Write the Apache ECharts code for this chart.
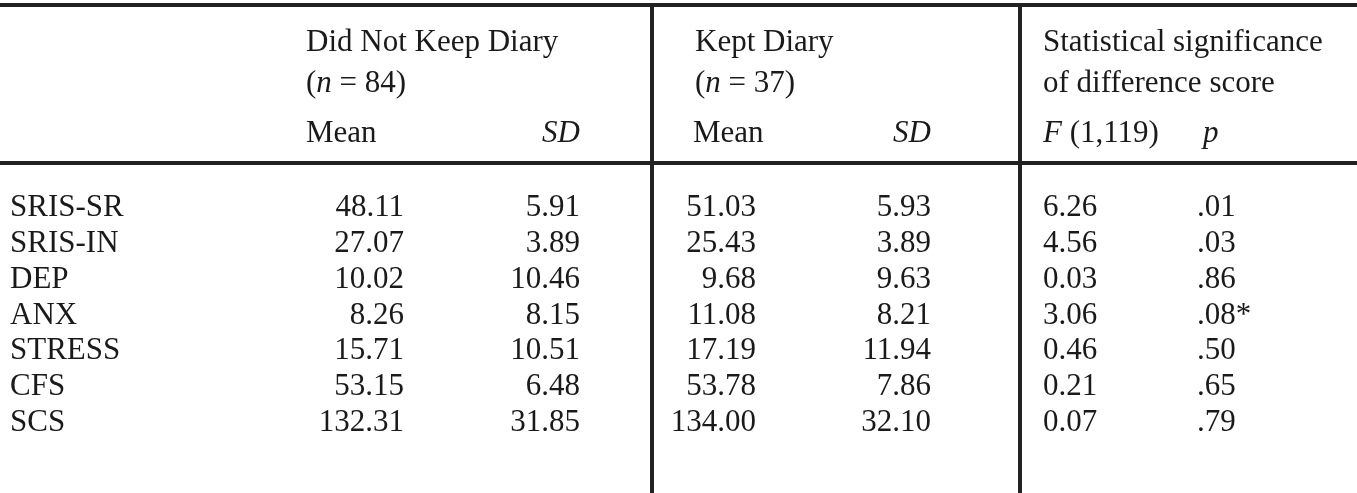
<!DOCTYPE html>
<html>
<head>
<meta charset="utf-8">
<script src="https://cdn.jsdelivr.net/npm/echarts@6/dist/echarts.min.js"></script>
<style>
html,body{margin:0;padding:0;background:#fff;}
#chart{width:1357px;height:493px;}
</style>
</head>
<body>
<div id="chart"></div>
<script>
// table data
var measures = ['SRIS-SR', 'SRIS-IN', 'DEP', 'ANX', 'STRESS', 'CFS', 'SCS'];
var noDiaryMean = ['48.11', '27.07', '10.02', '8.26', '15.71', '53.15', '132.31'];
var noDiarySD = ['5.91', '3.89', '10.46', '8.15', '10.51', '6.48', '31.85'];
var diaryMean = ['51.03', '25.43', '9.68', '11.08', '17.19', '53.78', '134.00'];
var diarySD = ['5.93', '3.89', '9.63', '8.21', '11.94', '7.86', '32.10'];
var fValues = ['6.26', '4.56', '0.03', '3.06', '0.46', '0.21', '0.07'];
var pValues = ['.01', '.03', '.86', '.08*', '.50', '.65', '.79'];

// layout: column anchors (px) and alignment
var cols = [
	{ x: 10, align: 'left' },
	{ x: 404, align: 'right' },
	{ x: 580, align: 'right' },
	{ x: 756, align: 'right' },
	{ x: 931, align: 'right' },
	{ x: 1043, align: 'left' },
	{ x: 1197, align: 'left' }
];
var rowTop = 208, rowStep = 35.8;
var FONT = '"Liberation Serif", "DejaVu Serif", serif';
var FS = 31;

var cells = [];
var columns = [measures, noDiaryMean, noDiarySD, diaryMean, diarySD, fValues, pValues];
columns.forEach(function(col, c) {
	col.forEach(function(v, r) {
		cells.push([cols[c].x, rowTop + r * rowStep, v, cols[c].align]);
	});
});

// header texts: [x, y, parts(text, italic), align]
var header = [
	[306, 43, [['Did Not Keep Diary', false]], 'left'],
	[306, 84, [['(', false], ['n', true], [' = 84)', false]], 'left'],
	[306, 134, [['Mean', false]], 'left'],
	[580, 134, [['SD', true]], 'right'],
	[695, 43, [['Kept Diary', false]], 'left'],
	[695, 84, [['(', false], ['n', true], [' = 37)', false]], 'left'],
	[693, 134, [['Mean', false]], 'left'],
	[931, 134, [['SD', true]], 'right'],
	[1043, 43, [['Statistical significance', false]], 'left'],
	[1043, 84, [['of difference score', false]], 'left'],
	[1043, 134, [['F', true], [' (1,119)', false]], 'left'],
	[1203, 134, [['p', true]], 'left']
];

function richText(parts) {
	return parts.map(function(p) { return '{' + (p[1] ? 'i' : 'n') + '|' + p[0] + '}'; }).join('');
}

var chart = echarts.init(document.getElementById('chart'));

chart.setOption({
	animation: false,
	grid: { left: 0, right: 0, top: 0, bottom: 0 },
	xAxis: { type: 'value', min: 0, max: 1357, show: false },
	yAxis: { type: 'value', min: 0, max: 493, inverse: true, show: false },
	series: [
		{
			type: 'custom',
			data: cells,
			renderItem: function(params, api) {
				var p = api.coord([api.value(0), api.value(1)]);
				return {
					type: 'text',
					x: p[0], y: p[1],
					style: {
						text: cells[params.dataIndex][2],
						textAlign: cells[params.dataIndex][3],
						textVerticalAlign: 'middle',
						fontFamily: FONT, fontSize: FS, fill: '#1a1a1a'
					}
				};
			}
		},
		{
			type: 'custom',
			data: header.map(function(h) { return [h[0], h[1]]; }),
			renderItem: function(params, api) {
				var h = header[params.dataIndex];
				var p = api.coord([api.value(0), api.value(1)]);
				return {
					type: 'text',
					x: p[0], y: p[1],
					style: {
						text: richText(h[2]),
						textAlign: h[3],
						textVerticalAlign: 'middle',
						fontFamily: FONT, fontSize: FS, fill: '#1a1a1a',
						rich: {
							n: { fontFamily: FONT, fontSize: FS, fill: '#1a1a1a' },
							i: { fontFamily: FONT, fontSize: FS, fontStyle: 'italic', fill: '#1a1a1a' }
						}
					}
				};
			}
		}
	],
	graphic: [
		{ type: 'rect', shape: { x: 0, y: 3, width: 1357, height: 4 }, style: { fill: '#222' } },
		{ type: 'rect', shape: { x: 0, y: 161, width: 1357, height: 4 }, style: { fill: '#222' } },
		{ type: 'rect', shape: { x: 650, y: 7, width: 4, height: 486 }, style: { fill: '#222' } },
		{ type: 'rect', shape: { x: 1018, y: 7, width: 4, height: 486 }, style: { fill: '#222' } }
	]
});
</script>
</body>
</html>
